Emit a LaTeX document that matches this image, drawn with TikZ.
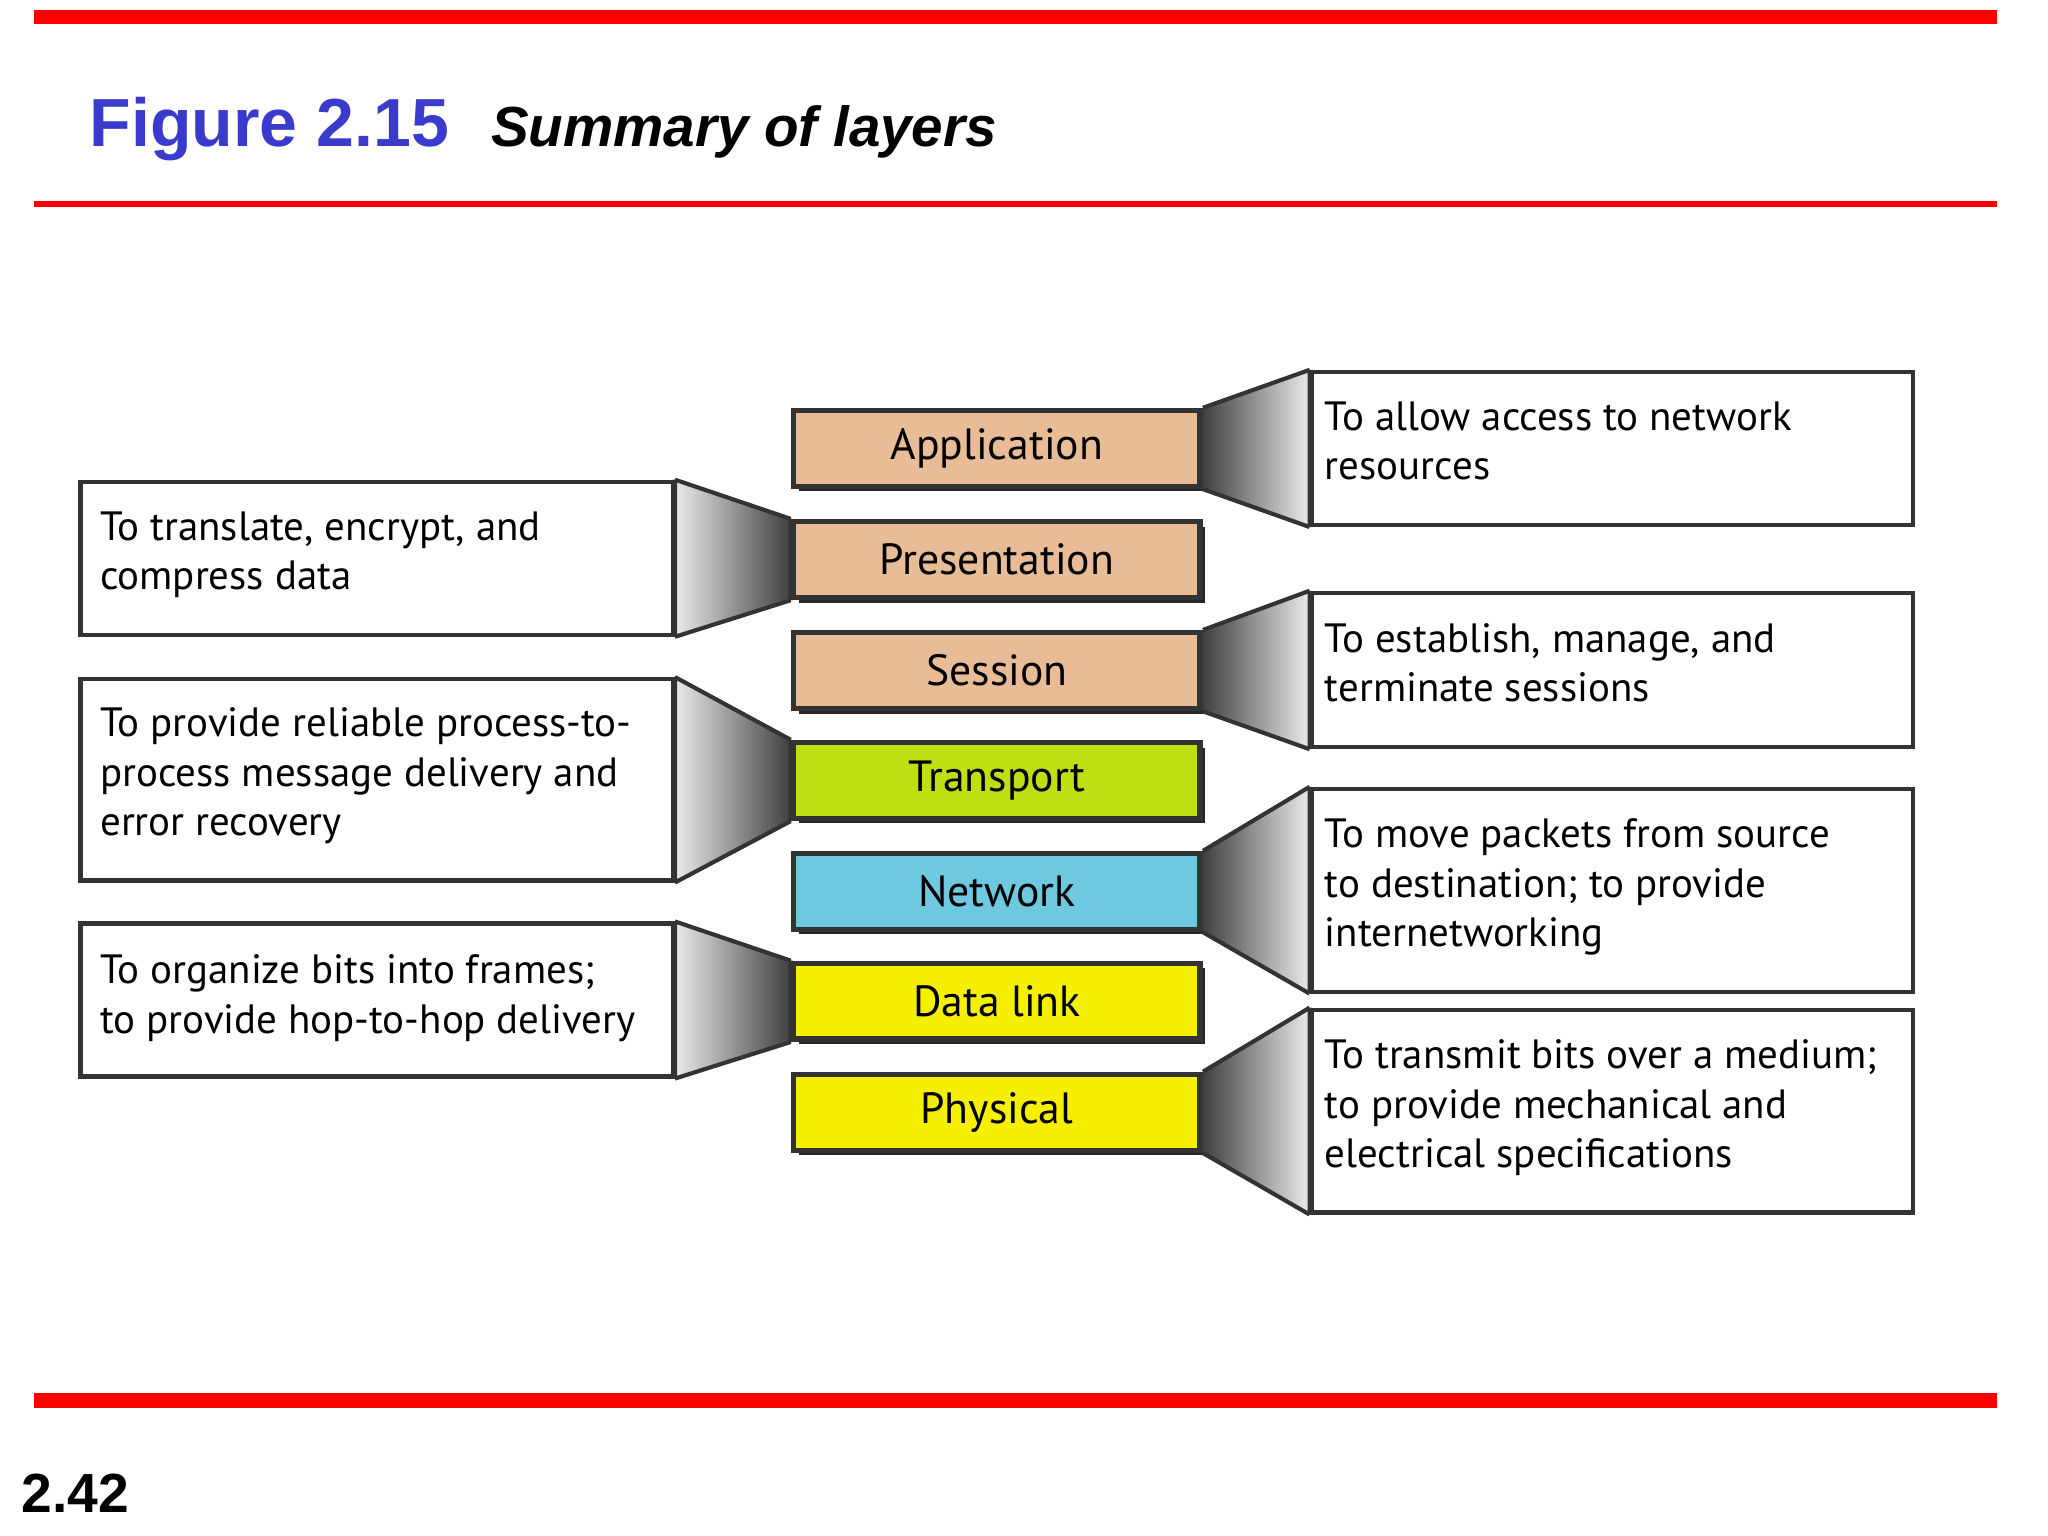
\documentclass[tikz,border=0pt]{standalone}
\usepackage{fontspec}
\setmainfont{PT Sans}
\newfontfamily\arialf{Liberation Sans}
\begin{document}
\begin{tikzpicture}[x=0.01cm,y=-0.01cm,
  layer/.style={draw=black!80,line width=1.2pt,minimum width=3.11cm,minimum height=0.58cm,anchor=north west,inner sep=0pt,font=\fontsize{9.5}{11}\selectfont},
  desc/.style={draw=black!80,line width=0.9pt,anchor=north west,inner sep=0pt},
  dtext/.style={anchor=north west,inner sep=0pt,align=left,font=\fontsize{8.9}{10.7}\selectfont}]
\useasboundingbox (0,0) rectangle (1567,1175);
\definecolor{tan}{HTML}{E8BC96}
\definecolor{lgreen}{HTML}{BEDF12}
\definecolor{lblue}{HTML}{6EC8E0}
\definecolor{lyel}{HTML}{F5F000}
\definecolor{tblue}{HTML}{3A3ACC}
% bars
\fill[red] (26,8) rectangle (1528,18);
\fill[red] (26,154) rectangle (1528,158);
\fill[red] (26,1066) rectangle (1528,1077);
\node[anchor=base west,inner sep=0pt,text=tblue,font=\arialf\bfseries\fontsize{14.8}{18}\selectfont] (fig) at (68,112) {Figure 2.15};
\node[anchor=base west,inner sep=0pt,font=\arialf\bfseries\itshape\fontsize{12.3}{15}\selectfont] (ttl) at (375,112) {Summary of layers};
\node[anchor=base west,inner sep=0pt,font=\arialf\bfseries\fontsize{12}{14}\selectfont] (pg) at (16,1157) {2.42};
% shadows
\foreach \y in {312,397,482,566,651,735,820} \fill[black!85] (611,\y+6) rectangle (922,\y+64);
% layers
\node[layer,fill=tan] (app) at (605,312) {Application};
\node[layer,fill=tan] (pre) at (605,397) {Presentation};
\node[layer,fill=tan] (ses) at (605,482) {Session};
\node[layer,fill=lgreen] (tra) at (605,566) {Transport};
\node[layer,fill=lblue] (net) at (605,651) {Network};
\node[layer,fill=lyel] (dl) at (605,735) {Data link};
\node[layer,fill=lyel] (phy) at (605,820) {Physical};
% right boxes
\node[desc,minimum width=4.6cm,minimum height=1.17cm] (r1) at (1002,283) {};
\node[desc,minimum width=4.6cm,minimum height=1.18cm] (r2) at (1002,452) {};
\node[desc,minimum width=4.6cm,minimum height=1.55cm] (r3) at (1002,602) {};
\node[desc,minimum width=4.6cm,minimum height=1.55cm] (r4) at (1002,771) {};
% left boxes
\node[desc,minimum width=4.53cm,minimum height=1.17cm] (l1) at (60,367) {};
\node[desc,minimum width=4.53cm,minimum height=1.54cm] (l2) at (60,518) {};
\node[desc,minimum width=4.53cm,minimum height=1.17cm] (l3) at (60,705) {};
% funnels right
\foreach \a/\r in {app/r1,ses/r2,net/r3,phy/r4}{
  \shade[left color=black!75,right color=black!8] (\a.north east) -- (\r.north west) -- (\r.south west) -- (\a.south east) -- cycle;
  \draw[black!80,line width=0.9pt] (\a.north east) -- (\r.north west) (\a.south east) -- (\r.south west) (\r.north west) -- (\r.south west);
}
\foreach \a/\l in {pre/l1,tra/l2,dl/l3}{
  \shade[left color=black!8,right color=black!75] (\l.north east) -- (\a.north west) -- (\a.south west) -- (\l.south east) -- cycle;
  \draw[black!80,line width=0.9pt] (\l.north east) -- (\a.north west) (\l.south east) -- (\a.south west) (\l.north east) -- (\l.south east) (\a.north west) -- (\a.south west);
}
% texts
\node[dtext] (t1) at (1013,307) {To allow access to network\\resources};
\node[dtext] (t2) at (1013,476) {To establish, manage, and\\terminate sessions};
\node[dtext] (t3) at (1013,626) {To move packets from source\\to destination; to provide\\internetworking};
\node[dtext] (t4) at (1013,795) {To transmit bits over a medium;\\to provide mechanical and\\electrical specifications};
\node[dtext] (t5) at (76,391) {To translate, encrypt, and\\compress data};
\node[dtext] (t6) at (76,541) {To provide reliable process-to-\\process message delivery and\\error recovery};
\node[dtext] (t7) at (76,730) {To organize bits into frames;\\to provide hop-to-hop delivery};
\end{tikzpicture}
\end{document}
